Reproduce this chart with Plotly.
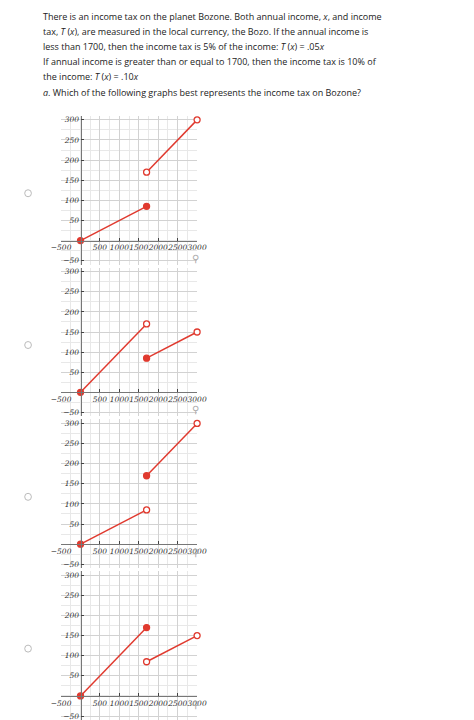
import plotly.graph_objects as go

# segment data for the four answer choices: (x0, y0, closed0, x1, y1, closed1)
choice_1 = [(0, 0, True, 1700, 85, True), (1700, 170, False, 3000, 300, False)]
choice_2 = [(0, 0, True, 1700, 170, False), (1700, 85, True, 3000, 150, False)]
choice_3 = [(0, 0, True, 1700, 85, False), (1700, 170, True, 3000, 300, False)]
choice_4 = [(0, 0, True, 1700, 170, True), (1700, 85, False, 3000, 150, False)]
choices = [choice_1, choice_2, choice_3, choice_4]

x_ticks = [-500, 500, 1000, 1500, 2000, 2500, 3000]
y_ticks = [-50, 50, 100, 150, 200, 250, 300]

W, H = 474, 720
RED = "#e03a2f"
fig = go.Figure()

x_px = (45, 187)
x_range = [-500, 3000]
y_range = [-60, 310]
top0 = 108
step = 152
ppu = 141 / 350

def py(v):
    return 1 - v / H

for i, segs in enumerate(choices):
    n = "" if i == 0 else str(i + 1)
    top = top0 + i * step
    bottom = top + (y_range[1] - y_range[0]) * ppu
    zero_px = top + y_range[1] * ppu
    for x0, y0, c0, x1, y1, c1 in segs:
        fig.add_trace(go.Scatter(x=[x0, x1], y=[y0, y1], mode="lines",
                                 line=dict(color=RED, width=1.5),
                                 xaxis="x" + n, yaxis="y" + n, showlegend=False))
        fig.add_trace(go.Scatter(
            x=[x0, x1], y=[y0, y1], mode="markers",
            marker=dict(size=6, color=[RED if c0 else "white", RED if c1 else "white"],
                        line=dict(color=RED, width=1.3)),
            xaxis="x" + n, yaxis="y" + n, showlegend=False, cliponaxis=False))
    zero_x = x_px[0] + (0 - x_range[0]) / (x_range[1] - x_range[0]) * (x_px[1] - x_px[0])
    tf = dict(family="DejaVu Serif", size=7.5, color="#333", style="italic")
    fig.update_layout(**{
        "xaxis" + n: dict(domain=[x_px[0] / W, x_px[1] / W], range=x_range,
                          anchor="free", position=py(zero_px),
                          tickvals=x_ticks, tickfont=tf, tickangle=0,
                          ticks="inside", ticklen=3,
                          showgrid=True, gridcolor="#d2d2d2", gridwidth=0.6,
                          minor=dict(dtick=250, showgrid=True, gridcolor="#e8e8e8"),
                          zeroline=False, showline=True, linecolor="#777", linewidth=0.8),
        "yaxis" + n: dict(domain=[py(bottom), py(top)], range=y_range,
                          anchor="free", position=zero_x / W,
                          tickvals=y_ticks, tickfont=tf, ticks="inside", ticklen=3,
                          showgrid=True, gridcolor="#d2d2d2", gridwidth=0.6,
                          minor=dict(dtick=25, showgrid=True, gridcolor="#e8e8e8"),
                          zeroline=False, showline=True, linecolor="#777", linewidth=0.8),
    })
    # radio button and zoom icon
    fig.add_shape(type="circle", xref="paper", yref="paper",
                  x0=7 / W, x1=14 / W, y0=py(top + 81), y1=py(top + 74),
                  line=dict(color="#bbb", width=1))
    fig.add_annotation(x=185 / W, y=py(zero_px + 17), xref="paper", yref="paper",
                       text="⚲", showarrow=False, font=dict(size=10, color="#aaa"))

lines = [
    "There is an income tax on the planet Bozone. Both annual income, <i>x</i>, and income",
    "tax, <i>T</i> (<i>x</i>), are measured in the local currency, the Bozo. If the annual income is",
    "less than 1700, then the income tax is 5% of the income: <i>T</i> (<i>x</i>) = .05<i>x</i>",
    "If annual income is greater than or equal to 1700, then the income tax is 10% of",
    "the income: <i>T</i> (<i>x</i>) = .10<i>x</i>",
]
for k, t in enumerate(lines):
    fig.add_annotation(x=24 / W, y=py(9 + k * 15), xref="paper", yref="paper",
                       text=t, showarrow=False, xanchor="left", yanchor="middle",
                       font=dict(family="Open Sans", size=9, color="#222"))
fig.add_annotation(x=24 / W, y=py(85), xref="paper", yref="paper",
                   text="<i>a</i>. Which of the following graphs best represents the income tax on Bozone?",
                   showarrow=False, xanchor="left", yanchor="middle",
                   font=dict(family="Open Sans", size=9, color="#222"))

fig.update_layout(width=W, height=H, margin=dict(l=0, r=0, t=0, b=0),
                  plot_bgcolor="white", paper_bgcolor="white")
fig.write_html("out.html")
